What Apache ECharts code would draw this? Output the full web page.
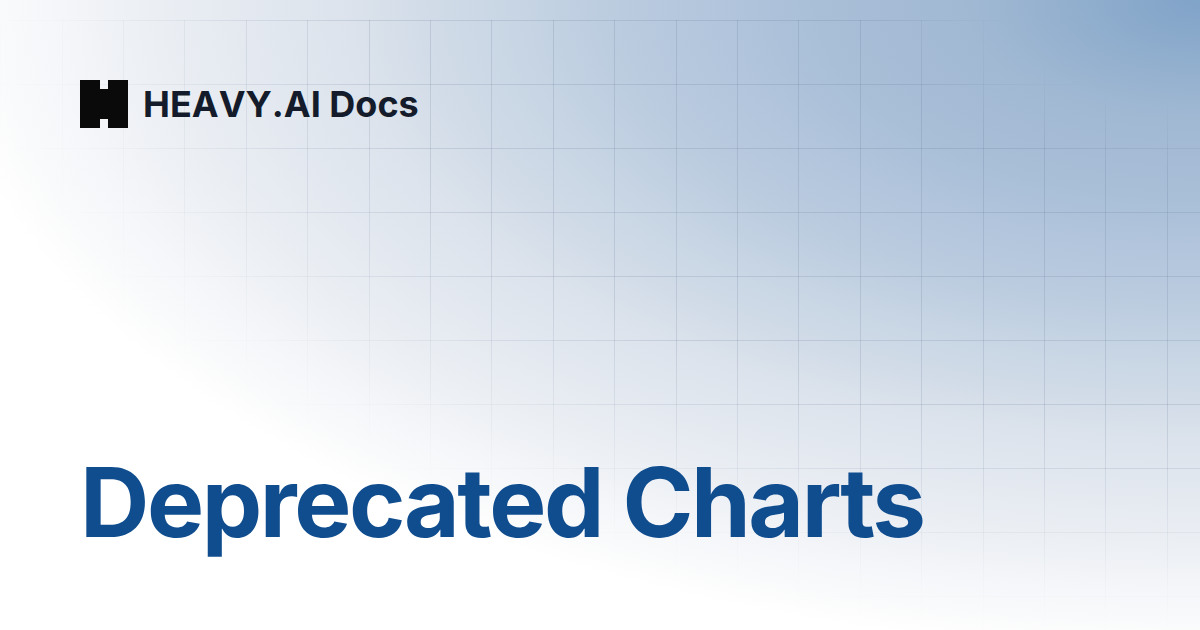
<!DOCTYPE html>
<html><head><meta charset="utf-8">
<script src="https://cdn.jsdelivr.net/npm/echarts@6/dist/echarts.min.js"></script>
<style>
html,body{margin:0;padding:0;background:#fff;overflow:hidden}
#c{width:1200px;height:630px}
#c text[style*="96px"]{letter-spacing:-2.4px}
#c text[style*="36px"]{font-kerning:none}
</style>
</head><body><div id="c"></div>
<script>
// ---- content ----
const brandText = ['HEAVY.AI Docs'];
const titleText = ['Deprecated Charts'];
// background grid: axis ranges in cell units (one split line per cell)
const xCellRange = [0, 20];
const yCellRange = [0, 10];

// ---- styling ----
const bgStops = [[0,'#80a3c8'],[0.2,'#a2b9d3'],[0.32,'#a9bfd8'],[0.4,'#b2c5dc'],[0.48,'#bacbdf'],[0.59,'#cad7e5'],[0.65,'#d2dce8'],[0.71,'#dce3ec'],[0.81,'#e5eaf1'],[0.9,'#eef1f5'],[0.96,'#f6f7fa'],[1.0,'#f9fafb'],[1.05,'#ffffff'],[1.15,'#ffffff']];
const gridMask = [[0,1],[0.16,1],[0.28,0],[0.7,0],[0.8,0.3],[0.87,0.6],[0.95,0.85],[1.0,0.95],[1.05,1],[1.15,1]];
const RMAX = 1.15;
function hex(c){return [parseInt(c.slice(1,3),16),parseInt(c.slice(3,5),16),parseInt(c.slice(5,7),16)];}
function lerpStops(st,t,isColor){
  for(let i=0;i<st.length-1;i++){
    const [a,va]=st[i],[b,vb]=st[i+1];
    if(t>=a&&t<=b){const f=(t-a)/(b-a)||0;
      if(isColor){const A=hex(va),B=hex(vb);return A.map((v,k)=>Math.round(v+(B[k]-v)*f));}
      return va+(vb-va)*f;}
  }
  const last=st[st.length-1][1];return isColor?hex(last):last;
}
const bgGrad=bgStops.map(s=>({offset:s[0]/RMAX,color:s[1]}));
const maskOffs=[...new Set([...bgStops.map(s=>s[0]),...gridMask.map(s=>s[0])])].sort((a,b)=>a-b);
const maskGrad=maskOffs.map(t=>{const c=lerpStops(bgStops,t,true);return {offset:t/RMAX,color:'rgba('+c.join(',')+','+lerpStops(gridMask,t,false).toFixed(3)+')'};});

const RX=1200, RY=620, HALF=2000;
const rRel=(RX*RMAX)/(2*HALF);
function ellipseRect(stops,zl,z){
  return {type:'rect',zlevel:zl,z:z,silent:true,x:1200,y:0,scaleX:1,scaleY:RY/RX,
    shape:{x:-HALF,y:-HALF,width:2*HALF,height:2*HALF},
    style:{fill:{type:'radial',x:0.5,y:0.5,r:rRel,colorStops:stops,global:false}}};
}

const chart=echarts.init(document.getElementById('c'),null,{renderer:'svg'});
const axisCommon={type:'value',interval:1,zlevel:1,axisLine:{show:false},axisTick:{show:false},axisLabel:{show:false},
  splitLine:{show:true,lineStyle:{color:'rgba(80,100,130,0.16)',width:1}}};
chart.setOption({
  backgroundColor:'#ffffff',
  animation:false,
  grid:{left:0.4,top:20,width:61.4*(xCellRange[1]-xCellRange[0]),height:64*(yCellRange[1]-yCellRange[0]),show:false,zlevel:1,outerBoundsMode:'none',containLabel:false},
  xAxis:Object.assign({},axisCommon,{min:xCellRange[0],max:xCellRange[1]}),
  yAxis:Object.assign({},axisCommon,{min:yCellRange[0],max:yCellRange[1]}),
  series:[{type:'line',data:[],zlevel:1}],
  graphic:{elements:[
    ellipseRect(bgGrad,0,0),
    ellipseRect(maskGrad,2,0),
    {type:'polygon',zlevel:3,silent:true,shape:{points:[[80,80],[100,80],[100,89],[108,89],[108,80],[128,80],[128,128],[108,128],[108,119],[100,119],[100,128],[80,128]]},style:{fill:'#0a0a0b'}},
    {type:'text',zlevel:3,silent:true,style:{text:brandText[0],x:143,y:103.6,fill:'#141b2a',fontFamily:'Inter',fontWeight:700,fontSize:36,align:'left',verticalAlign:'middle'}},
    {type:'text',zlevel:3,silent:true,style:{text:titleText[0],x:80,y:502.4,fill:'#0f4d8f',fontFamily:'Inter',fontWeight:700,fontSize:96,align:'left',verticalAlign:'middle'}}
  ]}
});
</script>
</body></html>
